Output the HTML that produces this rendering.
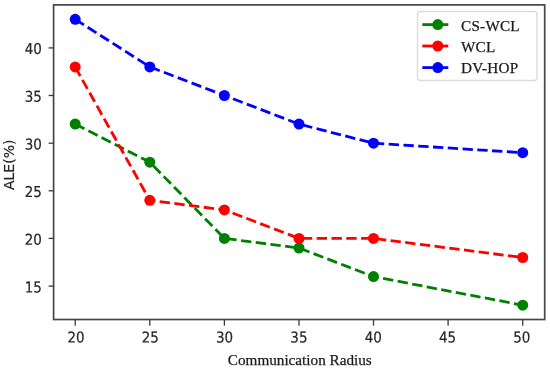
<!DOCTYPE html>
<html><head><meta charset="utf-8"><title>ALE vs Communication Radius</title>
<style>
html,body{margin:0;padding:0;background:#fff;}
body{width:550px;height:369px;overflow:hidden;}
svg{display:block;}
.tk{font-family:"DejaVu Sans","Liberation Sans",sans-serif;font-size:15.0px;fill:#262626;stroke:#262626;stroke-width:0.2px;}
.sf{font-family:"Liberation Serif",serif;font-size:15px;fill:#1a1a1a;stroke:#1a1a1a;stroke-width:0.25px;}
.lg{font-size:15.2px;letter-spacing:0.25px;}
</style></head><body>
<svg width="550" height="369" viewBox="0 0 550 369">
<rect x="0" y="0" width="550" height="369" fill="#ffffff"/>
<polyline points="75.2,124.1 149.8,162.2 224.4,238.4 299.0,248.0 373.5,276.6 522.7,305.2" fill="none" stroke="#008000" stroke-width="2.8" stroke-dasharray="10.36 4.44"/>
<circle cx="75.2" cy="124.1" r="5.5" fill="#008000"/>
<circle cx="149.8" cy="162.2" r="5.5" fill="#008000"/>
<circle cx="224.4" cy="238.4" r="5.5" fill="#008000"/>
<circle cx="299.0" cy="248.0" r="5.5" fill="#008000"/>
<circle cx="373.5" cy="276.6" r="5.5" fill="#008000"/>
<circle cx="522.7" cy="305.2" r="5.5" fill="#008000"/>
<polyline points="75.2,66.9 149.8,200.3 224.4,209.9 299.0,238.4 373.5,238.4 522.7,257.5" fill="none" stroke="#ff0000" stroke-width="2.8" stroke-dasharray="10.36 4.44"/>
<circle cx="75.2" cy="66.9" r="5.5" fill="#ff0000"/>
<circle cx="149.8" cy="200.3" r="5.5" fill="#ff0000"/>
<circle cx="224.4" cy="209.9" r="5.5" fill="#ff0000"/>
<circle cx="299.0" cy="238.4" r="5.5" fill="#ff0000"/>
<circle cx="373.5" cy="238.4" r="5.5" fill="#ff0000"/>
<circle cx="522.7" cy="257.5" r="5.5" fill="#ff0000"/>
<polyline points="75.2,19.3 149.8,66.9 224.4,95.5 299.0,124.1 373.5,143.2 522.7,152.7" fill="none" stroke="#0000ff" stroke-width="2.8" stroke-dasharray="10.36 4.44"/>
<circle cx="75.2" cy="19.3" r="5.5" fill="#0000ff"/>
<circle cx="149.8" cy="66.9" r="5.5" fill="#0000ff"/>
<circle cx="224.4" cy="95.5" r="5.5" fill="#0000ff"/>
<circle cx="299.0" cy="124.1" r="5.5" fill="#0000ff"/>
<circle cx="373.5" cy="143.2" r="5.5" fill="#0000ff"/>
<circle cx="522.7" cy="152.7" r="5.5" fill="#0000ff"/>
<rect x="53.6" y="4.9" width="491.1" height="314.6" fill="none" stroke="#464646" stroke-width="1.7"/>
<line x1="75.2" y1="319.5" x2="75.2" y2="325.7" stroke="#3a3a3a" stroke-width="1.3"/>
<text class="tk" transform="translate(76.0,342.4) rotate(0.03) scale(0.9,1)" text-anchor="middle">20</text>
<line x1="149.8" y1="319.5" x2="149.8" y2="325.7" stroke="#3a3a3a" stroke-width="1.3"/>
<text class="tk" transform="translate(150.3,342.4) rotate(0.03) scale(0.9,1)" text-anchor="middle">25</text>
<line x1="224.4" y1="319.5" x2="224.4" y2="325.7" stroke="#3a3a3a" stroke-width="1.3"/>
<text class="tk" transform="translate(224.6,342.4) rotate(0.03) scale(0.9,1)" text-anchor="middle">30</text>
<line x1="299.0" y1="319.5" x2="299.0" y2="325.7" stroke="#3a3a3a" stroke-width="1.3"/>
<text class="tk" transform="translate(298.9,342.4) rotate(0.03) scale(0.9,1)" text-anchor="middle">35</text>
<line x1="373.5" y1="319.5" x2="373.5" y2="325.7" stroke="#3a3a3a" stroke-width="1.3"/>
<text class="tk" transform="translate(373.2,342.4) rotate(0.03) scale(0.9,1)" text-anchor="middle">40</text>
<line x1="448.1" y1="319.5" x2="448.1" y2="325.7" stroke="#3a3a3a" stroke-width="1.3"/>
<text class="tk" transform="translate(447.5,342.4) rotate(0.03) scale(0.9,1)" text-anchor="middle">45</text>
<line x1="522.7" y1="319.5" x2="522.7" y2="325.7" stroke="#3a3a3a" stroke-width="1.3"/>
<text class="tk" transform="translate(521.8,342.4) rotate(0.03) scale(0.9,1)" text-anchor="middle">50</text>
<line x1="48.6" y1="286.1" x2="53.6" y2="286.1" stroke="#3a3a3a" stroke-width="1.3"/>
<text class="tk" transform="translate(41.9,292.4) rotate(0.03) scale(0.9,1)" text-anchor="end">15</text>
<line x1="48.6" y1="238.4" x2="53.6" y2="238.4" stroke="#3a3a3a" stroke-width="1.3"/>
<text class="tk" transform="translate(41.9,244.8) rotate(0.03) scale(0.9,1)" text-anchor="end">20</text>
<line x1="48.6" y1="190.8" x2="53.6" y2="190.8" stroke="#3a3a3a" stroke-width="1.3"/>
<text class="tk" transform="translate(41.9,197.1) rotate(0.03) scale(0.9,1)" text-anchor="end">25</text>
<line x1="48.6" y1="143.2" x2="53.6" y2="143.2" stroke="#3a3a3a" stroke-width="1.3"/>
<text class="tk" transform="translate(41.9,149.5) rotate(0.03) scale(0.9,1)" text-anchor="end">30</text>
<line x1="48.6" y1="95.5" x2="53.6" y2="95.5" stroke="#3a3a3a" stroke-width="1.3"/>
<text class="tk" transform="translate(41.9,101.8) rotate(0.03) scale(0.9,1)" text-anchor="end">35</text>
<line x1="48.6" y1="47.9" x2="53.6" y2="47.9" stroke="#3a3a3a" stroke-width="1.3"/>
<text class="tk" transform="translate(41.9,54.1) rotate(0.03) scale(0.9,1)" text-anchor="end">40</text>
<text class="tk" style="font-size:14.4px" transform="translate(14.3,164.8) rotate(-90) scale(0.975,1)" text-anchor="middle">ALE(%)</text>
<text class="sf" style="font-size:15.2px" x="299.8" y="365.3" text-anchor="middle">Communication Radius</text>
<rect x="417.5" y="11.5" width="119.5" height="69" rx="2.8" ry="2.8" fill="#ffffff" fill-opacity="0.8" stroke="#dcdcdc" stroke-width="1.4"/>
<line x1="422.3" y1="24.6" x2="448.3" y2="24.6" stroke="#008000" stroke-width="2.8"/>
<circle cx="437.8" cy="24.6" r="5.5" fill="#008000"/>
<text class="sf lg" x="461.0" y="30.8">CS-WCL</text>
<line x1="422.3" y1="46.0" x2="448.3" y2="46.0" stroke="#ff0000" stroke-width="2.8"/>
<circle cx="437.8" cy="46.0" r="5.5" fill="#ff0000"/>
<text class="sf lg" x="461.0" y="51.7">WCL</text>
<line x1="422.3" y1="67.6" x2="448.3" y2="67.6" stroke="#0000ff" stroke-width="2.8"/>
<circle cx="437.8" cy="67.6" r="5.5" fill="#0000ff"/>
<text class="sf lg" x="461.0" y="73.0">DV-HOP</text>
</svg></body></html>
